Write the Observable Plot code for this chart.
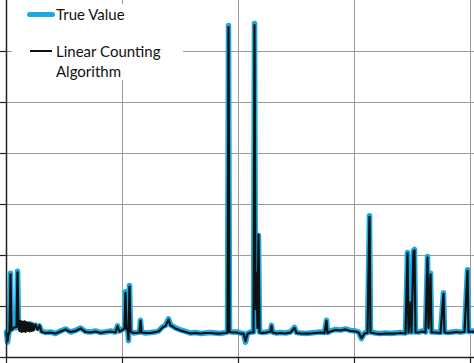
<!DOCTYPE html>
<html>
<head>
<meta charset="utf-8">
<script src="https://cdn.jsdelivr.net/npm/d3@7"></script>
<script src="https://cdn.jsdelivr.net/npm/@observablehq/plot@0.6"></script>
<style>
  html, body { margin: 0; padding: 0; background: #fff; }
  #wrap { position: relative; width: 474px; height: 363px; overflow: hidden; }
  #legend {
    position: absolute; left: 12px; top: 4px; width: 171px; height: 76px;
    background: #fff; font-family: Lato, "Open Sans", sans-serif; font-size: 15px; color: #111;
  }
  .item { position: absolute; left: 44px; line-height: 20px; }
  .sw { position: absolute; }
</style>
</head>
<body>
<div id="wrap">
  <div id="chart"></div>
  <div id="legend">
    <div class="sw" style="left:15px; top:8px; width:28px; height:5px; border-radius:3px; background:#1aa9e0;"></div>
    <div class="item" style="top:0px;">True Value</div>
    <div class="sw" style="left:18px; top:46px; width:22px; height:2px; background:#111;"></div>
    <div class="item" style="top:37px;">Linear Counting<br>Algorithm</div>
  </div>
</div>
<script>
// sample index (time)
const sampleIndex = [0,1,2,3,4,5,7,9,10,11,12,13,14,15,16,17,18,19,20,21,22,23,24,25,26,27,29,31,33,35,39,44,49,54,59,64,69,74,79,84,89,94,99,104,109,111,113,116,118,119,120,121,122,123,124,127,130,133,134,135,139,144,149,152,156,159,162,164,169,174,179,184,189,194,199,204,209,214,219,221,222,223,226,230,234,237,239,241,244,247,248,249,250,251,252,253,256,260,264,265,266,270,274,279,284,288,290,294,299,304,309,314,318,320,321,324,329,334,339,344,349,352,355,358,361,363,364,369,374,379,384,389,394,399,401,402,404,405,407,408,409,412,416,419,421,422,424,425,429,434,437,438,442,446,450,454,458,461,462,466,468];
const trueValue = [50,30,45,52,165,55,60,58,62,169,64,58,68,56,66,58,67,57,66,58,65,57,66,58,64,57,63,58,62,52,49,50,47,52,56,50,53,58,51,50,52,49,50,52,50,62,52,55,58,129,56,60,33,141,52,48,49,50,73,50,48,49,50,52,60,63,76,64,58,54,51,48,49,47,48,49,48,47,49,50,651,51,50,50,48,47,30,47,50,50,655,100,165,60,239,50,49,50,52,63,50,48,49,48,50,59,49,48,47,48,49,50,49,73,49,52,55,54,56,53,52,50,37,48,49,278,50,48,47,48,47,48,49,48,206,50,50,50,210,212,50,50,52,50,198,60,165,50,50,49,127,50,49,50,51,50,51,172,51,52,51];
const linearCounting = [48,32,46,50,163,54,58,60,60,167,62,52,72,50,70,51,71,50,69,52,68,51,67,52,66,53,65,54,63,50,48,49,47,51,55,50,52,57,50,49,51,48,50,51,49,61,51,54,57,127,55,58,35,139,51,48,48,49,72,49,48,48,50,51,59,62,74,63,57,53,50,47,48,47,48,48,47,47,48,49,648,50,49,49,47,47,32,46,49,49,652,95,166,58,241,49,48,49,51,62,49,47,48,47,49,58,48,47,47,47,48,49,48,72,48,51,54,53,55,52,51,49,38,47,48,276,49,47,46,47,47,47,48,47,204,49,108,49,208,210,49,49,51,49,196,58,163,49,49,48,125,49,48,49,50,49,50,170,50,51,50];
const xTicks = [0,116,232,348,464];
const yTicks = [0,100,200,300,400,500,600];

const rows = sampleIndex.map((x, i) => ({x, t: trueValue[i], l: linearCounting[i]}));

const chart = Plot.plot({
  width: 474, height: 363,
  marginLeft: 6, marginRight: 0, marginTop: 0, marginBottom: 6,
  style: {background: "#fff", overflow: "visible"},
  x: {domain: [0, 468], label: null},
  y: {domain: [0, 700], label: null},
  marks: [
    Plot.gridY(yTicks, {stroke: "#9a9a9a", strokeOpacity: 1, strokeWidth: 1}),
    Plot.gridX(xTicks, {stroke: "#9a9a9a", strokeOpacity: 1, strokeWidth: 1}),
    Plot.axisY(yTicks, {tickSize: 6, tickFormat: () => "", label: null, stroke: "#222", strokeWidth: 1.2}),
    Plot.axisX(xTicks, {tickSize: 6, tickFormat: () => "", label: null, stroke: "#222", strokeWidth: 1.2}),
    Plot.line(rows, {x: "x", y: "t", stroke: "#1aa9e0", strokeWidth: 5.5, strokeLinejoin: "round", strokeLinecap: "round"}),
    Plot.line(rows, {x: "x", y: "l", stroke: "#111", strokeWidth: 2.2, strokeLinejoin: "round"}),
    Plot.ruleX([0], {stroke: "#222", strokeWidth: 1.5}),
    Plot.ruleY([0], {stroke: "#222", strokeWidth: 1.5})
  ]
});
document.getElementById("chart").appendChild(chart);
</script>
</body>
</html>
